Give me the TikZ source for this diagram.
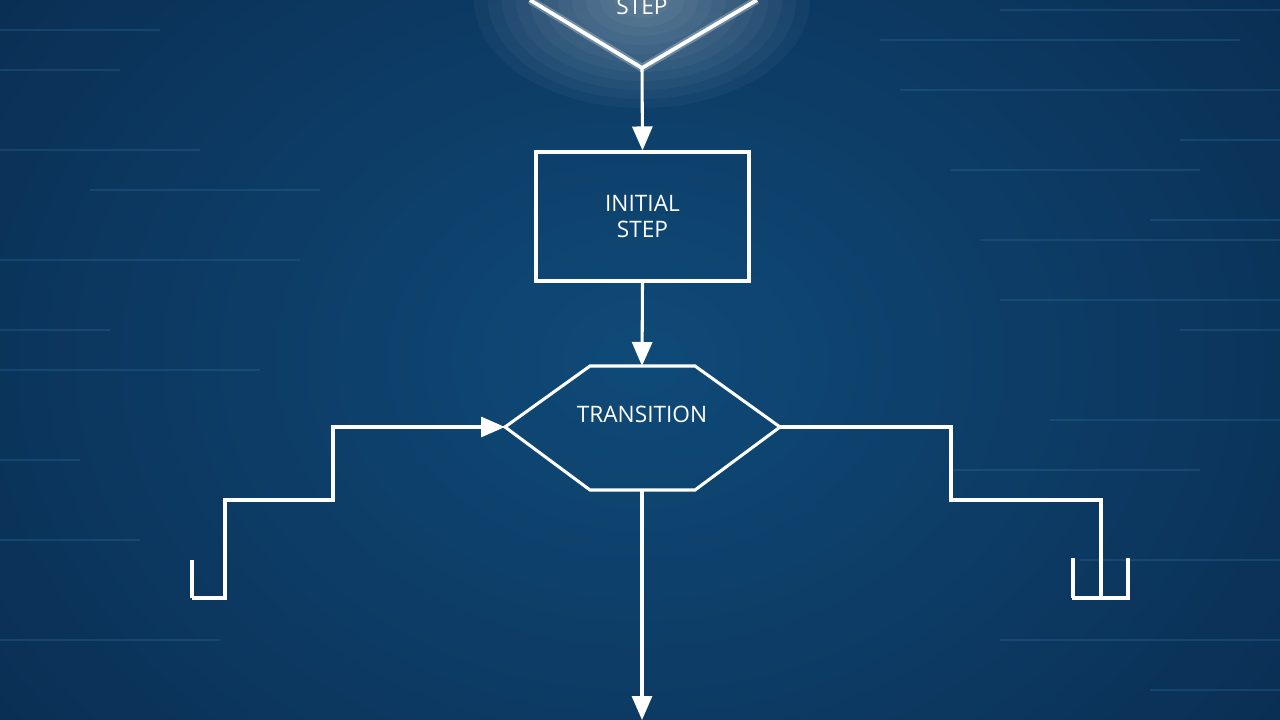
\documentclass[tikz,border=0pt]{standalone}
\usepackage{fontspec}
\setmainfont{Open Sans}
\usetikzlibrary{arrows.meta}
\definecolor{bgmid}{HTML}{0F4A78}
\definecolor{bgdark}{HTML}{0A2D52}
\definecolor{streak}{HTML}{2A6A9A}
\begin{document}
\begin{tikzpicture}[x=0.75pt,y=-0.75pt,
  ln/.style={draw=white,line width=2.3pt},
  arr/.style={ln,-{Triangle[length=18pt,width=15pt]}},
  lbl/.style={text=white,font=\fontsize{17}{20}\selectfont,align=center}]
\useasboundingbox (0,0) rectangle (1280,720);
\clip (0,0) rectangle (1280,720);
\shade[inner color=bgmid,outer color=bgdark] (-200,-300) rectangle (1480,1020);
\foreach \y/\a/\b in {30/0/160,70/0/120,150/0/200,190/90/320,260/0/300,330/0/110,370/0/260,460/0/80,540/0/140,640/0/220,10/1000/1280,40/880/1240,90/900/1280,140/1180/1280,170/950/1200,220/1150/1280,240/980/1280,300/1000/1280,330/1180/1280,420/1050/1280,470/950/1200,560/1080/1280,640/1000/1280,690/1150/1280}
  \draw[streak,opacity=0.35,line width=1.5pt] (\a,\y) -- (\b,\y);
\foreach \r in {1,...,12}
  \fill[white,opacity=0.035] (642,0) ellipse ({14*\r} and {9*\r});
\coordinate (dl) at (530,0);
\coordinate (dr) at (757,0);
\coordinate (dv) at (642,68);
\draw[white,line width=6pt,opacity=0.25] (dl) -- (dv) -- (dr);
\draw[ln,line width=2.8pt] (dl) -- (dv) -- (dr);
\node[lbl] (top) at (642,6) {STEP};
\node[ln,minimum width=213*0.75pt,minimum height=129*0.75pt,lbl,inner sep=0pt] (init) at (642.5,216.5) {INITIAL\\STEP};
\draw[arr] (dv) -- (init.north);
\draw[ln,line join=miter] (505,427) coordinate (hl) -- (590,366) -- (695,366) -- (780,427) coordinate (hr) -- (695,490) -- (590,490) -- cycle;
\coordinate (ht) at (642,366);
\coordinate (hb) at (642,490);
\node[lbl] (tr) at (642,414) {TRANSITION};
\draw[arr] (init.south) -- (ht);
\coordinate (bend) at (642,720);
\draw[arr] (hb) -- (bend);
\coordinate (l0) at (192,598);
\draw[arr] (l0) -- (225,598) -- (225,500) -- (333,500) -- (333,427) -- (hl);
\draw[ln] (192,560) -- (l0);
\coordinate (r0) at (1101,598);
\draw[ln] (hr) -- (951,427) -- (951,500) -- (1101,500) -- (r0);
\draw[ln] (1072,598) -- (1130,598);
\draw[ln] (1073,558) -- (1073,598);
\draw[ln] (1128,558) -- (1128,598);
\end{tikzpicture}
\end{document}
